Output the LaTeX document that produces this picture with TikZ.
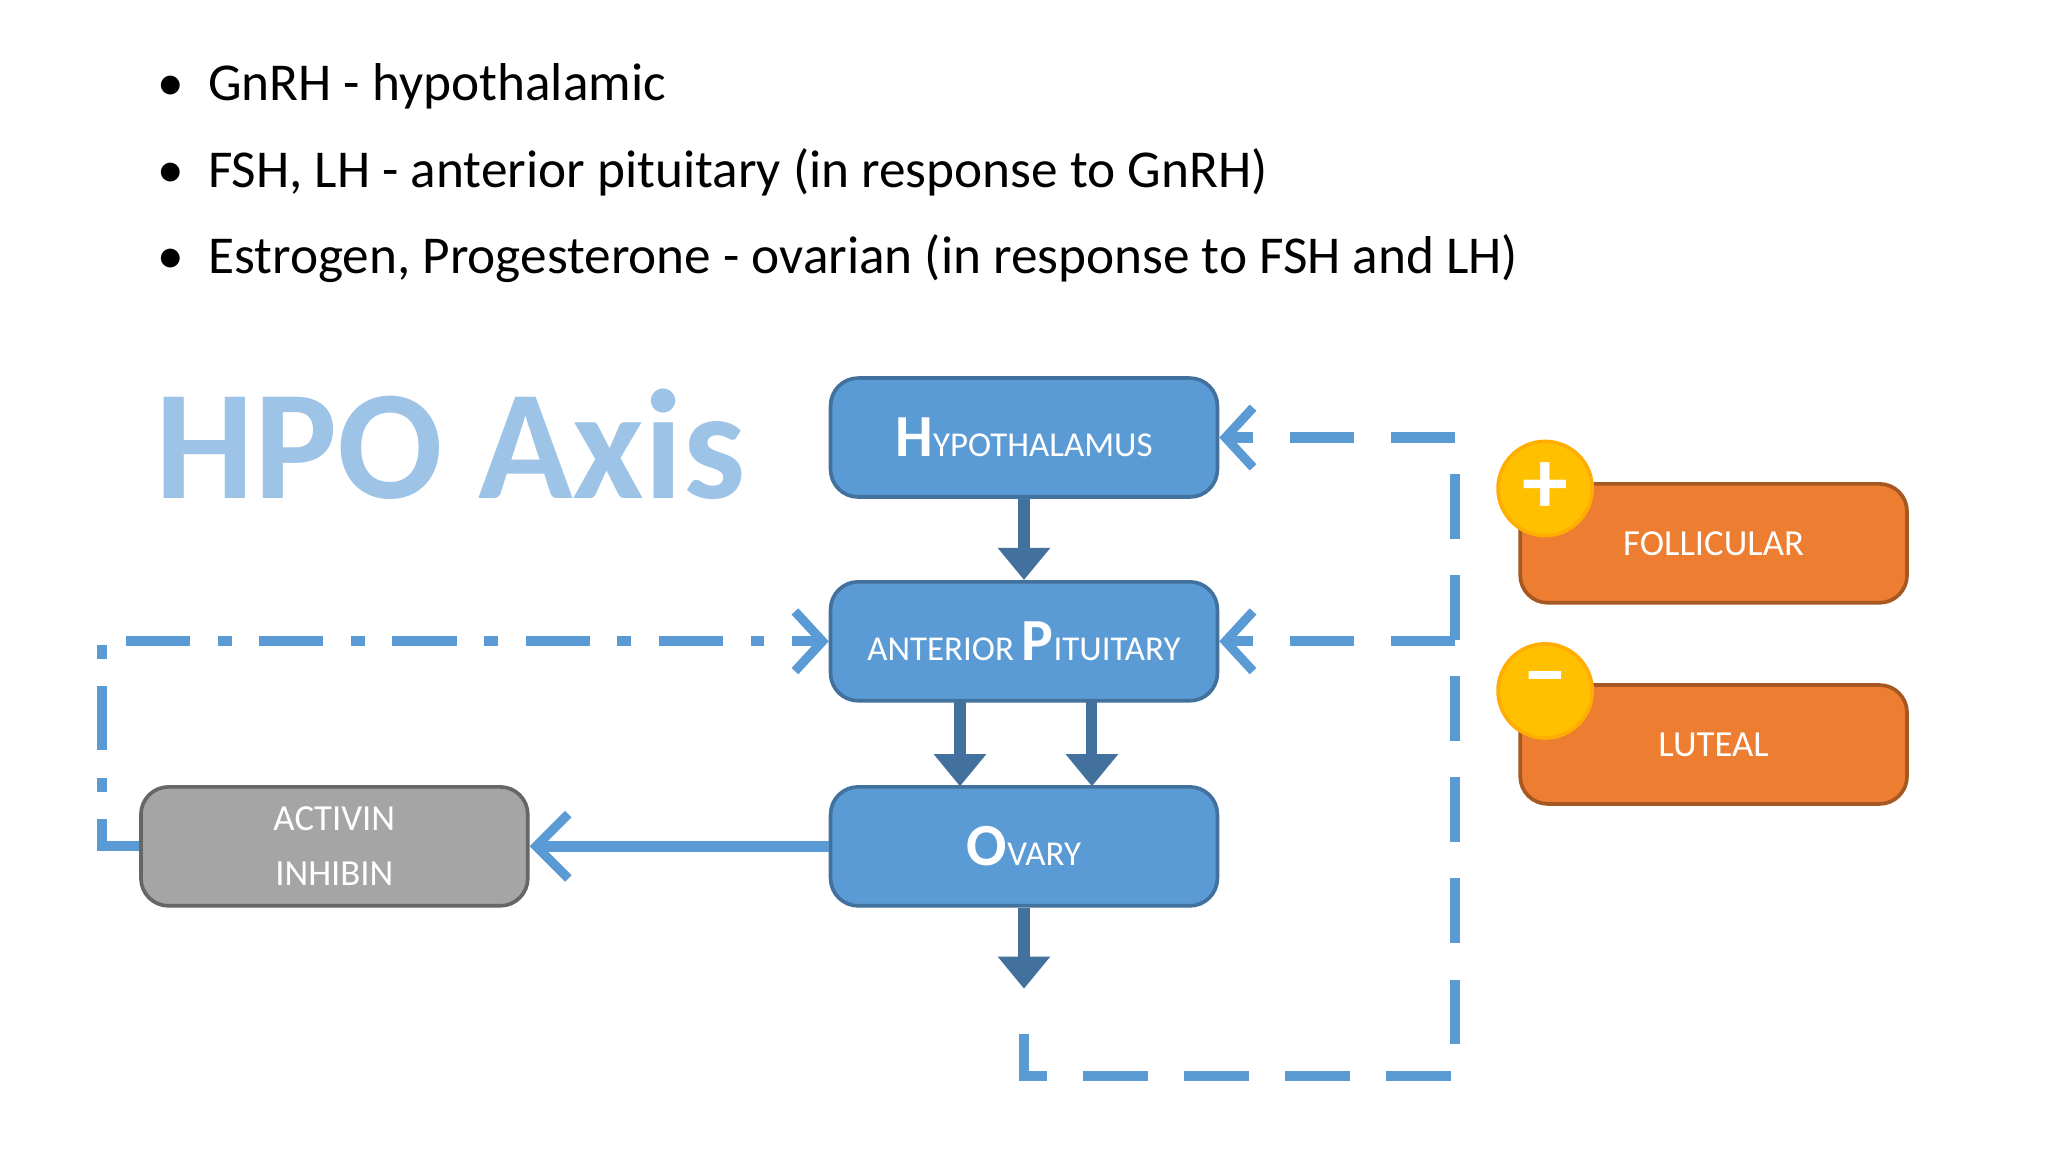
\documentclass[tikz,border=0pt]{standalone}
\usepackage{fontspec}
\setmainfont{Carlito}
\usetikzlibrary{arrows.meta}
\definecolor{bbox}{HTML}{5B9BD5}
\definecolor{bdark}{HTML}{41719C}
\definecolor{gbox}{HTML}{A5A5A5}
\definecolor{obox}{HTML}{ED7D31}
\definecolor{ycirc}{HTML}{FFC000}
\definecolor{hpo}{HTML}{9DC3E6}
\newcommand{\BigL}[1]{{\bfseries\fontsize{13pt}{13pt}\selectfont #1}}
\begin{document}
\begin{tikzpicture}[x=0.01cm,y=-0.01cm,
  box/.style={draw=bdark,fill=bbox,rounded corners=6pt,minimum width=2.96cm,minimum height=0.91cm,text=white,line width=0.8pt,font=\fontsize{7.6pt}{9pt}\selectfont},
  gray/.style={box,draw=gray!80!black,fill=gbox},
  orange/.style={box,draw=obox!70!black,fill=obox},
  circ/.style={circle,draw=ycirc!70!orange,fill=ycirc,minimum size=0.72cm,line width=0.8pt,text=white,inner sep=0pt,font=\bfseries\fontsize{20pt}{20pt}\selectfont},
  dk/.style={draw=bdark,line width=2.4pt,-{Triangle[length=7pt,width=11pt]}},
  fb/.style={draw=bbox,line width=2.2pt,dash pattern=on 14pt off 8pt,-{Straight Barb[length=6pt,width=13pt,line width=2pt]}}]
\useasboundingbox (0,0) rectangle (1568,882);
\fill[white] (0,0) rectangle (1568,882);
\foreach \y/\t [count=\i] in {66/GnRH - hypothalamic,132/{FSH, LH - anterior pituitary (in response to GnRH)},198/{Estrogen, Progesterone - ovarian (in response to FSH and LH)}}
  \node[anchor=west,font=\fontsize{11.6pt}{14pt}\selectfont,inner sep=0pt] (b\i) at (120,\y) {\textbullet\hspace{0.45em}\t};
\node[font=\bfseries\fontsize{34pt}{34pt}\selectfont,text=hpo] (title) at (345,340) {HPO Axis};
\node[box] (hyp) at (784,335) {\BigL{H}YPOTHALAMUS};
\node[box] (pit) at (784,491) {ANTERIOR \BigL{P}ITUITARY};
\node[box] (ova) at (784,648) {\BigL{O}VARY};
\node[gray,align=center,font=\fontsize{8pt}{12pt}\selectfont] (act) at (256,648) {ACTIVIN\\INHIBIN};
\node[orange,font=\fontsize{8pt}{9pt}\selectfont] (fol) at (1312,416) {FOLLICULAR};
\node[orange,font=\fontsize{8pt}{9pt}\selectfont] (lut) at (1312,570) {LUTEAL};
\node[circ] (plus) at (1183,374) {+};
\node[circ] (minus) at (1183,529) {\raisebox{2pt}{–}};
\draw[dk] (hyp.south) -- (pit.south|-pit.north);
\draw[dk] (735,537) -- (735,602);
\draw[dk] (836,537) -- (836,602);
\coordinate (oend) at (784,757);
\draw[dk] (ova.south) -- (oend);
\draw[draw=bbox,line width=2.4pt,-{Straight Barb[length=7pt,width=14pt,line width=2pt]}] (ova.west) -- (act.east);
\coordinate (d0) at (784,792);
\coordinate (d1) at (784,824);
\coordinate (d2) at (1114,824);
\coordinate (d3) at (1114,335);
\coordinate (d4) at (1114,491);
\draw[fb] (d0) -- (d1) -- (d2) -- (d3) -- (hyp.east);
\draw[fb] (d4) -- (pit.east);
\coordinate (a1) at (78,648);
\coordinate (a2) at (78,491);
\draw[fb,dash pattern=on 14pt off 6pt on 3pt off 6pt] (act.west) -- (a1) -- (a2) -- (pit.west);
\end{tikzpicture}
\end{document}
